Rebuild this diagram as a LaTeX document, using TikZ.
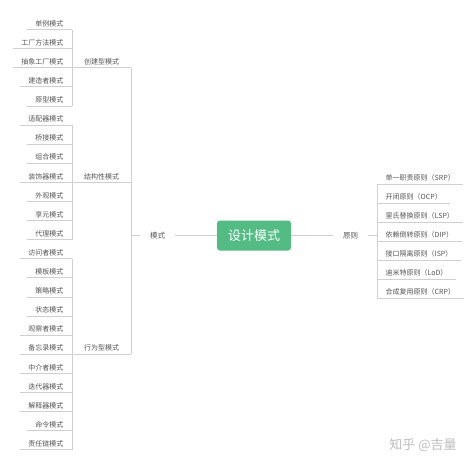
\documentclass[tikz,border=0pt]{standalone}
\usepackage{fontspec}
\newfontfamily\cjk{Noto Sans CJK SC}
\usetikzlibrary{positioning}
\definecolor{linegray}{RGB}{208,208,208}
\definecolor{textgray}{RGB}{85,85,85}
\definecolor{mintgreen}{RGB}{82,188,132}
\definecolor{markgray}{RGB}{190,190,190}
\tikzset{
  link/.style={draw=linegray, line width=0.7pt},
  leaf/.style={font=\cjk\fontsize{7}{8}\selectfont, text=textgray, inner xsep=8.5pt, inner ysep=2.5pt},
  group/.style={leaf, minimum width=59pt, inner xsep=0pt, anchor=south west},
  branch/.style={font=\cjk\fontsize{7.5}{9}\selectfont, text=textgray, inner xsep=10pt, inner ysep=2pt},
  core/.style={fill=mintgreen, rounded corners=3pt, text=white, font=\cjk\fontsize{13}{15}\selectfont, minimum width=74pt, minimum height=30pt}
}
\begin{document}
\begin{tikzpicture}[x=1pt, y=-1pt]
  \useasboundingbox (0,0) rectangle (474,466);
  \fill[white] (0,0) rectangle (474,466);
  % creational
  \node[leaf, anchor=south east] (cr1) at (72,29.5) {单例模式};
  \node[leaf, anchor=south east] (cr2) at (72,48.6) {工厂方法模式};
  \node[leaf, anchor=south east] (cr3) at (72,67.7) {抽象工厂模式};
  \node[leaf, anchor=south east] (cr4) at (72,86.8) {建造者模式};
  \node[leaf, anchor=south east] (cr5) at (72,105.9) {原型模式};
  % structural
  \node[leaf, anchor=south east] (st1) at (72,125.0) {适配器模式};
  \node[leaf, anchor=south east] (st2) at (72,144.1) {桥接模式};
  \node[leaf, anchor=south east] (st3) at (72,163.2) {组合模式};
  \node[leaf, anchor=south east] (st4) at (72,182.3) {装饰器模式};
  \node[leaf, anchor=south east] (st5) at (72,201.4) {外观模式};
  \node[leaf, anchor=south east] (st6) at (72,220.5) {享元模式};
  \node[leaf, anchor=south east] (st7) at (72,239.6) {代理模式};
  % behavioral
  \node[leaf, anchor=south east] (be1) at (72,258.7) {访问者模式};
  \node[leaf, anchor=south east] (be2) at (72,277.8) {模板模式};
  \node[leaf, anchor=south east] (be3) at (72,296.9) {策略模式};
  \node[leaf, anchor=south east] (be4) at (72,316.0) {状态模式};
  \node[leaf, anchor=south east] (be5) at (72,335.1) {观察者模式};
  \node[leaf, anchor=south east] (be6) at (72,354.2) {备忘录模式};
  \node[leaf, anchor=south east] (be7) at (72,373.3) {中介者模式};
  \node[leaf, anchor=south east] (be8) at (72,392.4) {迭代器模式};
  \node[leaf, anchor=south east] (be9) at (72,411.5) {解释器模式};
  \node[leaf, anchor=south east] (be10) at (72,430.6) {命令模式};
  \node[leaf, anchor=south east] (be11) at (72,449.7) {责任链模式};
  % principles
  \node[leaf, anchor=south west] (p1) at (377,184.3) {单一职责原则（SRP）};
  \node[leaf, anchor=south west] (p2) at (377,203.3) {开闭原则（OCP）};
  \node[leaf, anchor=south west] (p3) at (377,222.3) {里氏替换原则（LSP）};
  \node[leaf, anchor=south west] (p4) at (377,241.3) {依赖倒转原则（DIP）};
  \node[leaf, anchor=south west] (p5) at (377,260.3) {接口隔离原则（ISP）};
  \node[leaf, anchor=south west] (p6) at (377,279.3) {迪米特原则（LoD）};
  \node[leaf, anchor=south west] (p7) at (377,298.3) {合成复用原则（CRP）};

  \draw[link] (cr1.south west) -- (cr1.south east);
  \draw[link] (cr2.south west) -- (cr2.south east);
  \draw[link] (cr3.south west) -- (cr3.south east);
  \draw[link] (cr4.south west) -- (cr4.south east);
  \draw[link] (cr5.south west) -- (cr5.south east);
  \draw[link] (st1.south west) -- (st1.south east);
  \draw[link] (st2.south west) -- (st2.south east);
  \draw[link] (st3.south west) -- (st3.south east);
  \draw[link] (st4.south west) -- (st4.south east);
  \draw[link] (st5.south west) -- (st5.south east);
  \draw[link] (st6.south west) -- (st6.south east);
  \draw[link] (st7.south west) -- (st7.south east);
  \draw[link] (be1.south west) -- (be1.south east);
  \draw[link] (be2.south west) -- (be2.south east);
  \draw[link] (be3.south west) -- (be3.south east);
  \draw[link] (be4.south west) -- (be4.south east);
  \draw[link] (be5.south west) -- (be5.south east);
  \draw[link] (be6.south west) -- (be6.south east);
  \draw[link] (be7.south west) -- (be7.south east);
  \draw[link] (be8.south west) -- (be8.south east);
  \draw[link] (be9.south west) -- (be9.south east);
  \draw[link] (be10.south west) -- (be10.south east);
  \draw[link] (be11.south west) -- (be11.south east);
  \draw[link] (p1.south west) -- (p1.south east);
  \draw[link] (p2.south west) -- (p2.south east);
  \draw[link] (p3.south west) -- (p3.south east);
  \draw[link] (p4.south west) -- (p4.south east);
  \draw[link] (p5.south west) -- (p5.south east);
  \draw[link] (p6.south west) -- (p6.south east);
  \draw[link] (p7.south west) -- (p7.south east);

  % brackets
  \draw[link] (cr1.south east) -- (cr5.south east);
  \draw[link] (st1.south east) -- (st7.south east);
  \draw[link] (be1.south east) -- (be11.south east);
  \draw[link] (p1.south west) -- (p7.south west);

  \node[group] (cre) at (cr3.south east) {创建型模式};
  \node[group] (str) at (st4.south east) {结构性模式};
  \node[group] (beh) at (be6.south east) {行为型模式};
  \draw[link] (cre.south west) -- (cre.south east);
  \draw[link] (str.south west) -- (str.south east);
  \draw[link] (beh.south west) -- (beh.south east);
  \draw[link] (cre.south east) -- (beh.south east);

  \node[core] (core) at (254,235.5) {设计模式};
  \node[branch] (ms) at (157.5,235.5) {模式};
  \node[branch] (yz) at (350.5,235.5) {原则};
  \draw[link] (core.west) -- (ms.east);
  \draw[link] (ms.west) -- (ms.west -| cre.south east);
  \draw[link] (core.east) -- (yz.west);
  \draw[link] (yz.east) -- (yz.east -| p1.south west);

  \node[font=\cjk\fontsize{13}{15}\selectfont, text=markgray] (mark) at (423,445) {知乎 @吉量};
\end{tikzpicture}
\end{document}
